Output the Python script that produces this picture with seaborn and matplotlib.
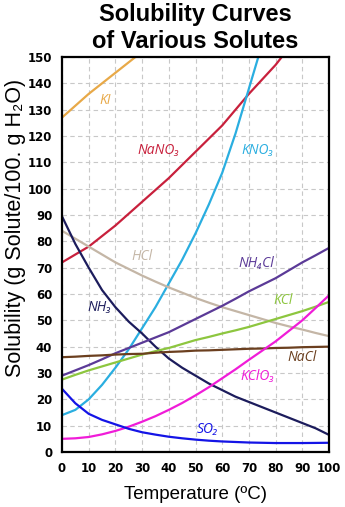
import matplotlib
matplotlib.use("Agg")
import matplotlib.pyplot as plt
import seaborn as sns
import pandas as pd

temps = [0, 5, 10, 15, 20, 25, 30, 35, 40, 45, 50, 55, 60, 65, 70, 75, 80, 85, 90, 95, 100]

ki = [127, 131.5, 136, 140, 144, 148, 152, 156, 160, 164, 168, 172, 176, 180, 184, 188, 192, 196, 200, 204, 208]
nano3 = [72, 75, 78, 82, 86, 90.5, 95, 99.5, 104, 109, 114, 119, 124, 130, 136, 141.5, 147, 153.5, 160, 166, 172]
kno3 = [14, 16, 20, 25.5, 32, 39, 47, 55, 64, 73, 83, 94, 106, 121, 138, 155, 172, 190, 208, 226, 245]
hcl = [84, 81, 78, 75, 72, 69.5, 67, 64.7, 62.5, 60.5, 58.5, 56.7, 55, 53.5, 52, 50.5, 49, 47.7, 46.5, 45.2, 44]
nh3 = [89.5, 79, 70, 61.5, 55, 49.5, 45, 40, 35.5, 32, 29, 26, 23.5, 21, 19, 17, 15, 13, 11, 9, 6.5]
nh4cl = [29, 31, 33, 35.2, 37.5, 39.5, 41.5, 43.5, 45.5, 48, 50.5, 53, 55.5, 58.2, 61, 63.5, 66, 69, 72, 74.7, 77.5]
kcl = [27.5, 29.3, 31, 32.5, 34, 35.5, 37, 38.3, 39.5, 41, 42.5, 43.7, 45, 46.2, 47.5, 49, 50.5, 52, 53.5, 55.2, 57]
nacl = [36, 36.2, 36.5, 36.7, 37, 37.2, 37.3, 37.7, 38, 38.2, 38.5, 38.6, 38.8, 39, 39.2, 39.3, 39.5, 39.6, 39.8, 39.9, 40]
kclo3 = [5, 5.2, 5.7, 6.7, 8, 9.6, 11.5, 13.6, 16, 18.6, 21.5, 24.6, 28, 31.4, 35, 38.5, 42, 46, 50, 54.7, 59.5]
so2 = [24, 18.5, 14.5, 12.2, 10.5, 8.8, 7.5, 6.6, 5.8, 5.2, 4.7, 4.3, 4.0, 3.8, 3.6, 3.5, 3.4, 3.4, 3.4, 3.45, 3.5]

solutes = ["KI", "NaNO3", "KNO3", "HCl", "NH3", "NH4Cl", "KCl", "NaCl", "KClO3", "SO2"]
series = [ki, nano3, kno3, hcl, nh3, nh4cl, kcl, nacl, kclo3, so2]
label_text = ["KI", "NaNO₃", "KNO₃", "HCl", "NH₃", "NH₄Cl", "KCl", "NaCl", "KClO₃", "SO₂"]
label_x = [16, 36, 73.3, 30, 14, 72.7, 82.8, 89.8, 73.4, 54.7]
label_y = [133.5, 114.5, 114.5, 74.4, 54.7, 71.7, 57.5, 35.7, 28.6, 8.4]

colors = {
    "KI": "#E8A948",
    "NaNO3": "#C8203C",
    "KNO3": "#2AAEE0",
    "HCl": "#C4B6A6",
    "NH3": "#1C1C5C",
    "NH4Cl": "#5B3A97",
    "KCl": "#8DC63F",
    "NaCl": "#6B3F1F",
    "KClO3": "#F01CD8",
    "SO2": "#1414E6",
}

rows = []
for name, vals in zip(solutes, series):
    for t, v in zip(temps, vals):
        rows.append({"Temperature": t, "Solubility": v, "Solute": name})
df = pd.DataFrame(rows)

sns.set_style("white")
plt.rcParams["font.family"] = ["Liberation Sans", "DejaVu Sans"]
plt.rcParams["text.color"] = "black"
plt.rcParams["axes.labelcolor"] = "black"
plt.rcParams["xtick.color"] = "black"
plt.rcParams["ytick.color"] = "black"

fig = plt.figure(figsize=(3.45, 5.07), dpi=100)
ax = fig.add_axes([62 / 345, 1 - 452 / 507, 267 / 345, 395 / 507])

sns.lineplot(data=df, x="Temperature", y="Solubility", hue="Solute",
             palette=colors, hue_order=solutes, legend=False, ax=ax,
             linewidth=1.6, zorder=3)

ax.set_xlim(0, 100)
ax.set_ylim(0, 150)
ax.set_xticks(range(0, 101, 10))
ax.set_yticks(range(0, 151, 10))
ax.tick_params(length=0, pad=7, colors="black")
for lab in ax.get_xticklabels() + ax.get_yticklabels():
    lab.set_fontfamily("DejaVu Sans")
    lab.set_fontweight("bold")
    lab.set_fontsize(8.5)
ax.grid(True, color="#C8C8C8", linestyle=(0, (4, 3)), linewidth=0.8)
ax.set_axisbelow(True)
for s in ax.spines.values():
    s.set_color("black")
    s.set_linewidth(1.6)
    s.set_zorder(5)

for name, txt, x, y in zip(solutes, label_text, label_x, label_y):
    ax.text(x, y, txt, color=colors[name], fontsize=10, style="italic",
            family=["Open Sans", "DejaVu Sans"], ha="center", va="center", zorder=4)

ax.set_xlabel("Temperature (ºC)", fontsize=13.5, color="black")
ax.set_ylabel("Solubility (g Solute/100. g H₂O)", fontsize=15.5, color="black")
ax.yaxis.set_label_coords(-0.133, 0.567)
ax.xaxis.set_label_coords(0.5, -0.085)

fig.text(195 / 345, 1 - 15 / 507, "Solubility Curves", ha="center", va="center",
         fontsize=17, fontweight="bold", color="black")
fig.text(195 / 345, 1 - 41 / 507, "of Various Solutes", ha="center", va="center",
         fontsize=17, fontweight="bold", color="black")

fig.savefig("out.png", dpi=100)
